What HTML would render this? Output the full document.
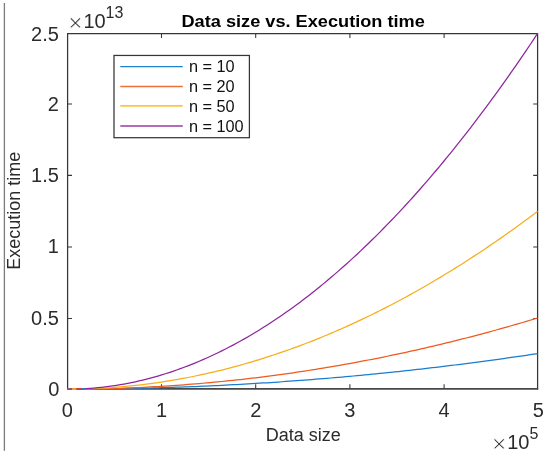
<!DOCTYPE html>
<html><head><meta charset="utf-8"><title>Data size vs. Execution time</title>
<style>html,body{margin:0;padding:0;background:#fff}body{width:550px;height:456px;overflow:hidden}</style></head>
<body>
<svg width="550" height="456" viewBox="0 0 550 456" style="display:block">
<rect width="550" height="456" fill="#fff"/>
<line x1="4.4" y1="3.1" x2="4.4" y2="450.8" stroke="#7c7c7c" stroke-width="1.3"/>
<g stroke="#363636" stroke-width="1.25" fill="none">
<path d="M67.6,389.55V33.55H537.6V389.55"/>
<line x1="66.98" y1="388.80" x2="538.22" y2="388.80" stroke="#484848" stroke-width="1.8"/>
<g stroke-width="1.05">
<path d="M161.50,388.65V384.25M161.50,33.55V37.95M67.6,318.40H72.00M537.6,318.40H533.20"/>
<path d="M255.70,388.65V384.25M255.70,33.55V37.95M67.6,246.90H72.00M537.6,246.90H533.20"/>
<path d="M349.90,388.65V384.25M349.90,33.55V37.95M67.6,175.35H72.00M537.6,175.35H533.20"/>
<path d="M444.10,388.65V384.25M444.10,33.55V37.95M67.6,103.90H72.00M537.6,103.90H533.20"/>
</g>
</g>
<g fill="none" stroke-width="1.25" stroke-linejoin="round" stroke-linecap="butt">
<path d="M67.60,389.15 L71.36,389.15 L75.12,389.14 L78.88,389.13 L82.64,389.11 L86.40,389.09 L90.16,389.07 L93.92,389.04 L97.68,389.00 L101.44,388.97 L105.20,388.92 L108.96,388.87 L112.72,388.82 L116.48,388.77 L120.24,388.70 L124.00,388.64 L127.76,388.57 L131.52,388.49 L135.28,388.41 L139.04,388.33 L142.80,388.24 L146.56,388.15 L150.32,388.05 L154.08,387.95 L157.84,387.84 L161.60,387.73 L165.36,387.61 L169.12,387.49 L172.88,387.37 L176.64,387.24 L180.40,387.10 L184.16,386.96 L187.92,386.82 L191.68,386.67 L195.44,386.52 L199.20,386.36 L202.96,386.20 L206.72,386.03 L210.48,385.86 L214.24,385.69 L218.00,385.51 L221.76,385.32 L225.52,385.13 L229.28,384.94 L233.04,384.74 L236.80,384.54 L240.56,384.33 L244.32,384.12 L248.08,383.90 L251.84,383.68 L255.60,383.46 L259.36,383.23 L263.12,382.99 L266.88,382.76 L270.64,382.51 L274.40,382.26 L278.16,382.01 L281.92,381.75 L285.68,381.49 L289.44,381.23 L293.20,380.95 L296.96,380.68 L300.72,380.40 L304.48,380.11 L308.24,379.83 L312.00,379.53 L315.76,379.23 L319.52,378.93 L323.28,378.62 L327.04,378.31 L330.80,378.00 L334.56,377.67 L338.32,377.35 L342.08,377.02 L345.84,376.68 L349.60,376.34 L353.36,376.00 L357.12,375.65 L360.88,375.30 L364.64,374.94 L368.40,374.58 L372.16,374.21 L375.92,373.84 L379.68,373.47 L383.44,373.09 L387.20,372.70 L390.96,372.31 L394.72,371.92 L398.48,371.52 L402.24,371.12 L406.00,370.71 L409.76,370.30 L413.52,369.88 L417.28,369.46 L421.04,369.04 L424.80,368.60 L428.56,368.17 L432.32,367.73 L436.08,367.29 L439.84,366.84 L443.60,366.39 L447.36,365.93 L451.12,365.47 L454.88,365.00 L458.64,364.53 L462.40,364.05 L466.16,363.57 L469.92,363.09 L473.68,362.60 L477.44,362.10 L481.20,361.60 L484.96,361.10 L488.72,360.59 L492.48,360.08 L496.24,359.56 L500.00,359.04 L503.76,358.52 L507.52,357.99 L511.28,357.45 L515.04,356.91 L518.80,356.37 L522.56,355.82 L526.32,355.27 L530.08,354.71 L533.84,354.15 L537.60,353.58" stroke="#1A7CCC"/>
<path d="M67.60,389.15 L71.36,389.15 L75.12,389.13 L78.88,389.11 L82.64,389.08 L86.40,389.04 L90.16,388.99 L93.92,388.93 L97.68,388.86 L101.44,388.78 L105.20,388.69 L108.96,388.60 L112.72,388.49 L116.48,388.38 L120.24,388.26 L124.00,388.13 L127.76,387.98 L131.52,387.83 L135.28,387.67 L139.04,387.51 L142.80,387.33 L146.56,387.14 L150.32,386.95 L154.08,386.74 L157.84,386.53 L161.60,386.30 L165.36,386.07 L169.12,385.83 L172.88,385.58 L176.64,385.32 L180.40,385.05 L184.16,384.77 L187.92,384.49 L191.68,384.19 L195.44,383.89 L199.20,383.57 L202.96,383.25 L206.72,382.92 L210.48,382.58 L214.24,382.22 L218.00,381.87 L221.76,381.50 L225.52,381.12 L229.28,380.73 L233.04,380.34 L236.80,379.93 L240.56,379.52 L244.32,379.09 L248.08,378.66 L251.84,378.22 L255.60,377.77 L259.36,377.31 L263.12,376.84 L266.88,376.36 L270.64,375.87 L274.40,375.38 L278.16,374.87 L281.92,374.36 L285.68,373.83 L289.44,373.30 L293.20,372.76 L296.96,372.21 L300.72,371.65 L304.48,371.08 L308.24,370.50 L312.00,369.91 L315.76,369.32 L319.52,368.71 L323.28,368.10 L327.04,367.47 L330.80,366.84 L334.56,366.20 L338.32,365.55 L342.08,364.89 L345.84,364.22 L349.60,363.54 L353.36,362.85 L357.12,362.16 L360.88,361.45 L364.64,360.73 L368.40,360.01 L372.16,359.28 L375.92,358.54 L379.68,357.78 L383.44,357.02 L387.20,356.25 L390.96,355.48 L394.72,354.69 L398.48,353.89 L402.24,353.09 L406.00,352.27 L409.76,351.45 L413.52,350.61 L417.28,349.77 L421.04,348.92 L424.80,348.06 L428.56,347.19 L432.32,346.31 L436.08,345.42 L439.84,344.53 L443.60,343.62 L447.36,342.71 L451.12,341.78 L454.88,340.85 L458.64,339.91 L462.40,338.95 L466.16,337.99 L469.92,337.02 L473.68,336.04 L477.44,335.06 L481.20,334.06 L484.96,333.05 L488.72,332.04 L492.48,331.01 L496.24,329.98 L500.00,328.94 L503.76,327.89 L507.52,326.82 L511.28,325.75 L515.04,324.68 L518.80,323.59 L522.56,322.49 L526.32,321.38 L530.08,320.27 L533.84,319.14 L537.60,318.01" stroke="#EE5A1E"/>
<path d="M67.60,389.15 L71.36,389.14 L75.12,389.10 L78.88,389.05 L82.64,388.97 L86.40,388.87 L90.16,388.74 L93.92,388.59 L97.68,388.42 L101.44,388.23 L105.20,388.01 L108.96,387.77 L112.72,387.51 L116.48,387.23 L120.24,386.92 L124.00,386.59 L127.76,386.24 L131.52,385.86 L135.28,385.46 L139.04,385.04 L142.80,384.60 L146.56,384.13 L150.32,383.64 L154.08,383.13 L157.84,382.59 L161.60,382.04 L165.36,381.46 L169.12,380.85 L172.88,380.23 L176.64,379.58 L180.40,378.91 L184.16,378.21 L187.92,377.49 L191.68,376.75 L195.44,375.99 L199.20,375.21 L202.96,374.40 L206.72,373.57 L210.48,372.71 L214.24,371.84 L218.00,370.94 L221.76,370.02 L225.52,369.07 L229.28,368.10 L233.04,367.11 L236.80,366.10 L240.56,365.06 L244.32,364.01 L248.08,362.92 L251.84,361.82 L255.60,360.69 L259.36,359.54 L263.12,358.37 L266.88,357.18 L270.64,355.96 L274.40,354.72 L278.16,353.45 L281.92,352.17 L285.68,350.86 L289.44,349.53 L293.20,348.17 L296.96,346.80 L300.72,345.40 L304.48,343.97 L308.24,342.53 L312.00,341.06 L315.76,339.57 L319.52,338.05 L323.28,336.52 L327.04,334.96 L330.80,333.38 L334.56,331.77 L338.32,330.14 L342.08,328.49 L345.84,326.82 L349.60,325.12 L353.36,323.41 L357.12,321.66 L360.88,319.90 L364.64,318.11 L368.40,316.30 L372.16,314.47 L375.92,312.61 L379.68,310.74 L383.44,308.84 L387.20,306.91 L390.96,304.97 L394.72,303.00 L398.48,301.00 L402.24,298.99 L406.00,296.95 L409.76,294.89 L413.52,292.81 L417.28,290.70 L421.04,288.58 L424.80,286.42 L428.56,284.25 L432.32,282.05 L436.08,279.83 L439.84,277.59 L443.60,275.33 L447.36,273.04 L451.12,270.73 L454.88,268.39 L458.64,266.04 L462.40,263.66 L466.16,261.26 L469.92,258.83 L473.68,256.39 L477.44,253.92 L481.20,251.42 L484.96,248.91 L488.72,246.37 L492.48,243.81 L496.24,241.22 L500.00,238.62 L503.76,235.99 L507.52,233.34 L511.28,230.66 L515.04,227.96 L518.80,225.24 L522.56,222.50 L526.32,219.73 L530.08,216.95 L533.84,214.13 L537.60,211.30" stroke="#F8AE1A"/>
<path d="M67.60,389.15 L71.36,389.13 L75.12,389.06 L78.88,388.95 L82.64,388.79 L86.40,388.58 L90.16,388.33 L93.92,388.03 L97.68,387.69 L101.44,387.31 L105.20,386.87 L108.96,386.40 L112.72,385.87 L116.48,385.30 L120.24,384.69 L124.00,384.03 L127.76,383.32 L131.52,382.57 L135.28,381.77 L139.04,380.93 L142.80,380.04 L146.56,379.11 L150.32,378.13 L154.08,377.11 L157.84,376.04 L161.60,374.92 L165.36,373.76 L169.12,372.55 L172.88,371.30 L176.64,370.00 L180.40,368.66 L184.16,367.27 L187.92,365.84 L191.68,364.36 L195.44,362.83 L199.20,361.26 L202.96,359.65 L206.72,357.98 L210.48,356.28 L214.24,354.52 L218.00,352.73 L221.76,350.88 L225.52,348.99 L229.28,347.06 L233.04,345.08 L236.80,343.05 L240.56,340.98 L244.32,338.86 L248.08,336.70 L251.84,334.49 L255.60,332.24 L259.36,329.94 L263.12,327.59 L266.88,325.20 L270.64,322.77 L274.40,320.29 L278.16,317.76 L281.92,315.19 L285.68,312.57 L289.44,309.91 L293.20,307.20 L296.96,304.44 L300.72,301.64 L304.48,298.80 L308.24,295.91 L312.00,292.97 L315.76,289.99 L319.52,286.96 L323.28,283.89 L327.04,280.77 L330.80,277.60 L334.56,274.39 L338.32,271.14 L342.08,267.84 L345.84,264.49 L349.60,261.10 L353.36,257.66 L357.12,254.18 L360.88,250.65 L364.64,247.07 L368.40,243.46 L372.16,239.79 L375.92,236.08 L379.68,232.32 L383.44,228.52 L387.20,224.67 L390.96,220.78 L394.72,216.84 L398.48,212.86 L402.24,208.83 L406.00,204.76 L409.76,200.63 L413.52,196.47 L417.28,192.26 L421.04,188.00 L424.80,183.70 L428.56,179.35 L432.32,174.96 L436.08,170.52 L439.84,166.03 L443.60,161.50 L447.36,156.93 L451.12,152.31 L454.88,147.64 L458.64,142.93 L462.40,138.17 L466.16,133.36 L469.92,128.52 L473.68,123.62 L477.44,118.68 L481.20,113.70 L484.96,108.66 L488.72,103.59 L492.48,98.47 L496.24,93.30 L500.00,88.09 L503.76,82.83 L507.52,77.52 L511.28,72.17 L515.04,66.78 L518.80,61.34 L522.56,55.85 L526.32,50.32 L530.08,44.74 L533.84,39.12 L537.60,33.45" stroke="#8E259E"/>
</g>
<path d="M72,389.1H76.5" stroke="#F8B21A" stroke-width="1.7"/><path d="M76.5,389.1H81.5" stroke="#E23A1E" stroke-width="1.7"/><path d="M81.5,389.1H86" stroke="#1C86D8" stroke-width="1.7"/>
<g font-family="Liberation Sans, Arial, Helvetica, sans-serif" font-size="20" fill="#2b2b2b">
<text x="67.30" y="416.7" text-anchor="middle">0</text>
<text x="161.50" y="416.7" text-anchor="middle">1</text>
<text x="255.70" y="416.7" text-anchor="middle">2</text>
<text x="349.90" y="416.7" text-anchor="middle">3</text>
<text x="444.10" y="416.7" text-anchor="middle">4</text>
<text x="538.30" y="416.7" text-anchor="middle">5</text>
<text x="59.3" y="396.0" text-anchor="end">0</text>
<text x="58.9" y="324.65" text-anchor="end">0.5</text>
<text x="58.9" y="253.2" text-anchor="end">1</text>
<text x="58.9" y="182.4" text-anchor="end">1.5</text>
<text x="58.9" y="111.1" text-anchor="end">2</text>
<text x="58.9" y="40.55" text-anchor="end">2.5</text>
<text x="68.2" y="30.6" font-size="24.5" stroke="#fff" stroke-width="0.7">×</text><text x="83.39999999999999" y="27.5">10</text><text x="105.6" y="17.8" font-size="16">13</text>
<text x="492.0" y="452.0" font-size="24.5" stroke="#fff" stroke-width="0.7">×</text><text x="507.20000000000005" y="448.9">10</text><text x="529.4" y="439.2" font-size="16">5</text>
</g>
<text transform="translate(303.15,26.5) scale(1.045,1)" font-family="Liberation Sans, Arial, Helvetica, sans-serif" font-size="17.4" font-weight="bold" fill="#000" text-anchor="middle">Data size vs. Execution time</text>
<text x="303.2" y="440.8" font-family="Liberation Sans, Arial, Helvetica, sans-serif" font-size="18" fill="#2b2b2b" text-anchor="middle">Data size</text>
<text transform="translate(19.9,210.8) rotate(-90)" font-family="Liberation Sans, Arial, Helvetica, sans-serif" font-size="18" fill="#2b2b2b" text-anchor="middle">Execution time</text>
<rect x="114.0" y="55.45" width="135.4" height="82.25" fill="#fff" stroke="#363636" stroke-width="1.25"/>
<g font-family="Liberation Sans, Arial, Helvetica, sans-serif" font-size="16.3" fill="#111">
<line x1="120.3" y1="66.65" x2="182.8" y2="66.65" stroke="#1C84C8" stroke-width="1.3"/>
<text x="188.9" y="72.20">n = 10</text>
<line x1="120.3" y1="86.60" x2="182.8" y2="86.60" stroke="#F0703A" stroke-width="1.5"/>
<text x="188.9" y="92.20">n = 20</text>
<line x1="120.3" y1="105.90" x2="182.8" y2="105.90" stroke="#FDC448" stroke-width="1.9"/>
<text x="188.9" y="112.20">n = 50</text>
<line x1="120.3" y1="126.00" x2="182.8" y2="126.00" stroke="#B46CBA" stroke-width="1.9"/>
<text x="188.9" y="132.20">n = 100</text>
</g>
</svg>
</body></html>
